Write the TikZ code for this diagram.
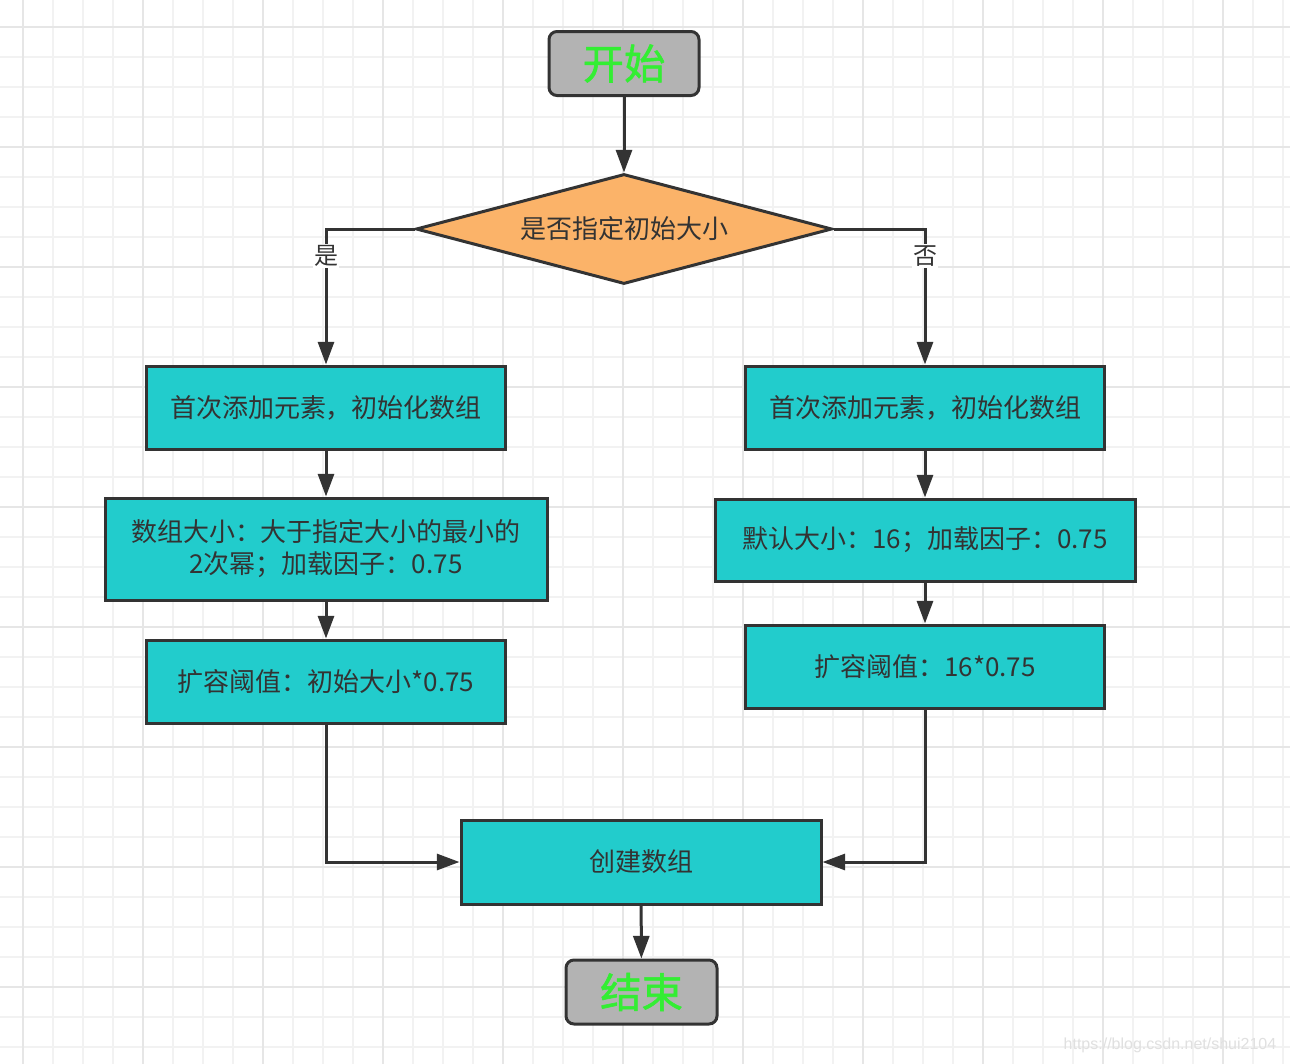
\documentclass[tikz,border=0pt]{standalone}
\usepackage{fontspec}
\setmainfont{Noto Sans CJK SC}
\newfontfamily\termfont[FakeBold=1.3]{Noto Sans CJK SC}
\newfontfamily\wmfont{Liberation Sans}
\usetikzlibrary{arrows.meta,shapes.geometric}
\definecolor{teal1}{HTML}{22CCCC}
\definecolor{orange1}{HTML}{FBB369}
\definecolor{gray1}{HTML}{B3B3B3}
\definecolor{dark1}{HTML}{333333}
\definecolor{green1}{HTML}{33EE33}
\definecolor{gridminor}{HTML}{F2F2F2}
\definecolor{gridmajor}{HTML}{E6E6E6}
\def\u{0.75pt}
\begin{document}
\begin{tikzpicture}[x=0.75pt,y=-0.75pt,
  procbox/.style={draw=dark1,line width=2.25pt,fill=teal1,text=dark1,
    font=\fontsize{19.5}{24}\selectfont,align=center,inner sep=0pt},
  termbox/.style={draw=dark1,line width=2.25pt,fill=gray1,rounded corners=6pt,
    text=green1,font=\termfont\fontsize{31}{36}\selectfont,inner sep=0pt,
    minimum width=150*\u,minimum height=64*\u},
  decbox/.style={diamond,draw=dark1,line width=2.25pt,fill=orange1,text=dark1,
    font=\fontsize{19.5}{24}\selectfont,inner sep=0pt,aspect=3.8,
    minimum width=416*\u,minimum height=110*\u},
  conn/.style={draw=dark1,line width=2.25pt,-{Triangle[length=17pt,width=12pt]}},
  lbl/.style={fill=white,text=dark1,font=\fontsize{18}{20}\selectfont,inner sep=1pt}
]
\useasboundingbox (0,0) rectangle (1290,1064);
\fill[white] (0,0) rectangle (1290,1064);
% grid
\foreach \i in {0,...,42} {
  \pgfmathsetmacro\xx{22.7+30*\i}
  \draw[gridminor,line width=1.2pt] (\xx,0) -- (\xx,1064);
}
\foreach \i in {0,...,35} {
  \pgfmathsetmacro\yy{26.7+30*\i}
  \draw[gridminor,line width=1.2pt] (0,\yy) -- (1290,\yy);
}
\foreach \i in {0,...,10} {
  \pgfmathsetmacro\xx{22.7+120*\i}
  \draw[gridmajor,line width=1.2pt] (\xx,0) -- (\xx,1064);
}
\foreach \i in {0,...,8} {
  \pgfmathsetmacro\yy{26.7+120*\i}
  \draw[gridmajor,line width=1.2pt] (0,\yy) -- (1290,\yy);
}

% nodes
\node[termbox] (start) at (624,63.5) {开始};
\node[decbox] (dec) at (624,229) {\raisebox{-2pt}{是否指定初始大小}};
\node[procbox,minimum width=359*\u,minimum height=83*\u] (l1) at (326,407.5) {首次添加元素，初始化数组};
\node[procbox,minimum width=359*\u,minimum height=83*\u] (r1) at (925,407.5) {首次添加元素，初始化数组};
\node[procbox,minimum width=442*\u,minimum height=102*\u] (l2) at (326,549) {数组大小：大于指定大小的最小的\\2次幂；加载因子：0.75};
\node[procbox,minimum width=420*\u,minimum height=82*\u] (r2) at (925,540) {默认大小：16；加载因子：0.75};
\node[procbox,minimum width=359*\u,minimum height=83*\u] (l3) at (326,681.5) {扩容阈值：初始大小*0.75};
\node[procbox,minimum width=359*\u,minimum height=83*\u] (r3) at (925,666.5) {扩容阈值：16*0.75};
\node[procbox,minimum width=360*\u,minimum height=84*\u] (c) at (641,862) {创建数组};
\node[termbox,minimum width=151*\u] (end) at (641.5,992) {结束};

\coordinate (lturn) at (326,229);
\coordinate (rturn) at (925,229);
\coordinate (lb) at (326,862);
\coordinate (rb) at (925,862);

% connectors
\draw[conn] (start) -- (dec);
\draw[conn] (dec.west) -- (lturn) -- node[lbl,pos=0.2] {是} (l1.north);
\draw[conn] (dec.east) -- (rturn) -- node[lbl,pos=0.2] {否} (r1.north);
\draw[conn] (l1) -- (l2);
\draw[conn] (l2) -- (l3);
\draw[conn] (r1) -- (r2);
\draw[conn] (r2) -- (r3);
\draw[conn] (l3.south) -- (lb) -- (c.west);
\draw[conn] (r3.south) -- (rb) -- (c.east);
\draw[conn] (c) -- (end);

% watermark
\node[text=black!12,font=\wmfont\fontsize{12}{14}\selectfont,anchor=east] (wm) at (1281,1045) {https://blog.csdn.net/shui2104};
\end{tikzpicture}
\end{document}
